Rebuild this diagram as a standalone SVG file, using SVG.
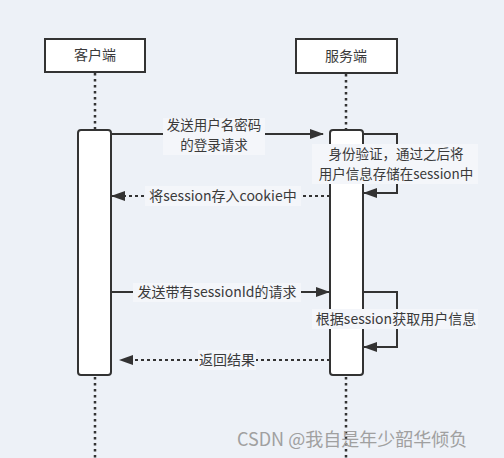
<svg xmlns="http://www.w3.org/2000/svg" width="504" height="458" viewBox="0 0 504 458">
<style>
.box{fill:#fff;stroke:#333;stroke-width:2}
.act{fill:#fff;stroke:#333;stroke-width:2}
.life{stroke:#333;stroke-width:2.5;stroke-dasharray:2.5,3.5;fill:none}
.msg{stroke:#333;stroke-width:2;fill:none}
.ret{stroke:#333;stroke-width:2;stroke-dasharray:3,3;fill:none}
.t{font-family:"Noto Sans CJK SC","Liberation Sans",sans-serif;font-size:14px;fill:#3a3a3a;text-anchor:middle}
.t2{font-size:13.5px}
.lb{fill:#f4f6fa}
.wm{font-family:"Noto Sans CJK SC","Liberation Sans",sans-serif;font-size:18px;fill:#a0a0a0}
</style>
<defs>
<marker id="ah" markerWidth="14" markerHeight="10" refX="13" refY="5" orient="auto" markerUnits="userSpaceOnUse">
<path d="M0,0 L14,5 L0,10 Z" fill="#333"/>
</marker>
</defs>
<rect width="504" height="458" fill="#edf1f7"/>
<g id="lifelines">
<line class="life" x1="95" y1="73" x2="95" y2="130"/>
<line class="life" x1="346" y1="74" x2="346" y2="130"/>
<line class="life" x1="95" y1="377" x2="95" y2="458"/>
<line class="life" x1="346" y1="377" x2="346" y2="458"/>
</g>
<g id="client">
<rect class="box" x="45" y="39" width="100" height="33"/>
<text class="t" x="95" y="60">客户端</text>
</g>
<g id="server">
<rect class="box" x="296" y="39" width="101" height="34"/>
<text class="t" x="346" y="61">服务端</text>
</g>
<g id="client-act">
<rect class="act" x="78" y="130" width="33" height="245" rx="3"/>
</g>
<g id="server-act">
<rect class="act" x="330" y="130" width="33" height="245" rx="3"/>
</g>
<g id="connectors">
<line class="msg" x1="111" y1="134" x2="323" y2="134" marker-end="url(#ah)"/>
<polyline class="msg" points="363,134 397,134 397,193 364,193" marker-end="url(#ah)"/>
<line class="ret" x1="330" y1="196" x2="112" y2="196" marker-end="url(#ah)"/>
<line class="msg" x1="111" y1="292" x2="329" y2="292" marker-end="url(#ah)"/>
<polyline class="msg" points="363,292 397,292 397,347 364,347" marker-end="url(#ah)"/>
<line class="ret" x1="330" y1="360" x2="120" y2="360" marker-end="url(#ah)"/>
</g>
<g id="labels">
<rect class="lb" x="163" y="118" width="102" height="37"/>
<text class="t t2" x="214" y="130">发送用户名密码<tspan x="214" dy="19.7">的登录请求</tspan></text>
<rect class="lb" x="312" y="144" width="166" height="40"/>
<text class="t t2" x="396" y="159">身份验证，通过之后将<tspan x="396" dy="19.7">用户信息存储在session中</tspan></text>
<rect class="lb" x="145" y="186" width="156" height="20"/>
<text class="t" x="223" y="201">将session存入cookie中</text>
<rect class="lb" x="133" y="283" width="168" height="19"/>
<text class="t" x="217" y="297">发送带有sessionId的请求</text>
<rect class="lb" x="312" y="309" width="166" height="20"/>
<text class="t" x="396" y="324">根据session获取用户信息</text>
<rect class="lb" x="198" y="350" width="58" height="20"/>
<text class="t" x="227" y="365">返回结果</text>
</g>
<text class="wm" x="237" y="446">CSDN @我自是年少韶华倾负</text>
</svg>
